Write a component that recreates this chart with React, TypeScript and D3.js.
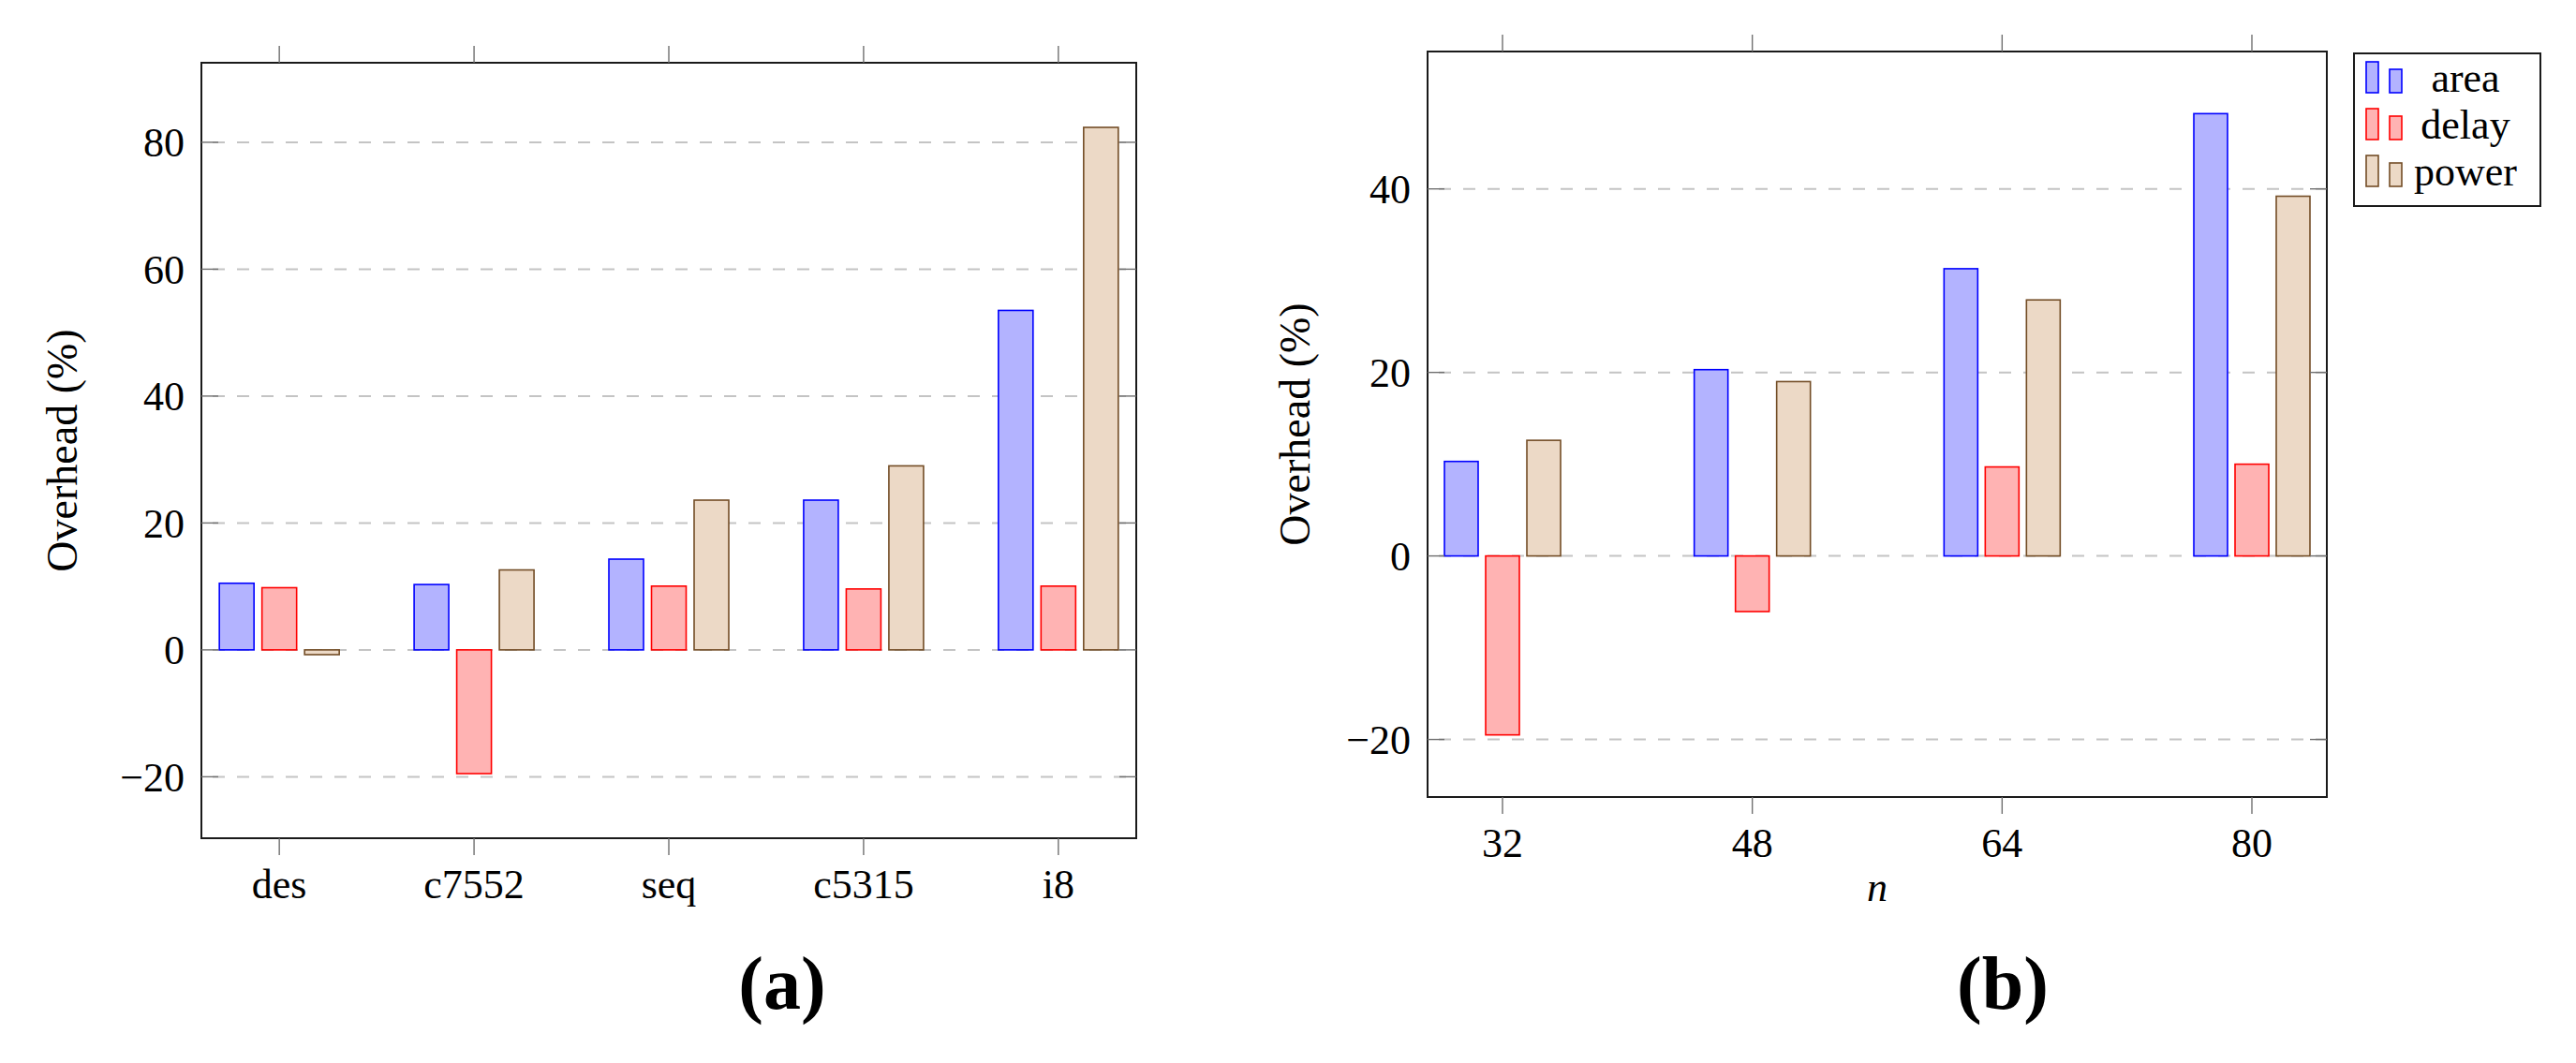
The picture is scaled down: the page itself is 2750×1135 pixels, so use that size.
import React from "react";
import * as d3 from "d3";

// panel (a): per benchmark circuit
const benchmarks = ["des", "c7552", "seq", "c5315", "i8"];
const areaA = [10.5, 10.3, 14.3, 23.6, 53.5];
const delayA = [9.8, -19.5, 10.05, 9.6, 10.05];
const powerA = [-0.75, 12.6, 23.6, 29.0, 82.35];
const yTicksA = [-20, 0, 20, 40, 60, 80];

// panel (b): per bit width n
const widthsN = [32, 48, 64, 80];
const areaB = [10.3, 20.3, 31.3, 48.2];
const delayB = [-19.5, -6.06, 9.7, 10.0];
const powerB = [12.6, 19.0, 27.9, 39.2];
const yTicksB = [-20, 0, 20, 40];

const seriesNames = ["area", "delay", "power"];

const FILLS = ["#b3b3ff", "#ffb3b3", "#ecd9c6"];
const STROKES = ["#0000ff", "#ff0000", "#734d26"];
const FONT = "'Liberation Serif', 'Times New Roman', serif";

interface PanelProps {
  frame: { x0: number; x1: number; y0: number; y1: number };
  xs: number[];
  xLabels: string[];
  series: number[][];
  yTicks: number[];
  barWidth: number;
  pitch: number;
  yLabelPos: [number, number];
  xLabel?: string;
  caption: string;
  captionX: number;
}

const fmt = (v: number) => (v < 0 ? `\u2212${Math.abs(v)}` : `${v}`);

const Panel = ({ frame, xs, xLabels, series, yTicks, barWidth, pitch, yLabelPos, xLabel, caption, captionX }: PanelProps) => {
  const { x0, x1, y0, y1 } = frame;

  const xr = xs[xs.length - 1] - xs[0];
  const x = d3.scaleLinear()
    .domain([xs[0] - 0.1 * xr, xs[xs.length - 1] + 0.1 * xr])
    .range([x0, x1]);

  const [mn, mx] = d3.extent(series.flat()) as [number, number];
  const pad = 0.1 * (mx - mn);
  const y = d3.scaleLinear().domain([mn - pad, mx + pad]).range([y1, y0]);

  const tickLen = 18;

  return (
    <g>
      {/* grid */}
      {yTicks.map(t => (
        <line key={`g${t}`} x1={x0} x2={x1} y1={y(t)} y2={y(t)}
          stroke="#c4c4c4" strokeWidth={2} strokeDasharray="13 13" strokeDashoffset={-12} />
      ))}

      {/* bars */}
      {series.map((vals, k) =>
        vals.map((v, i) => {
          const cx = x(xs[i]) + (k - 1) * pitch;
          const top = Math.min(y(v), y(0));
          return (
            <rect key={`b${k}-${i}`} x={cx - barWidth / 2} y={top}
              width={barWidth} height={Math.abs(y(v) - y(0))}
              fill={FILLS[k]} stroke={STROKES[k]} strokeWidth={1.6} />
          );
        })
      )}

      {/* frame */}
      <rect x={x0} y={y0} width={x1 - x0} height={y1 - y0} fill="none" stroke="#1a1a1a" strokeWidth={2} />

      {/* y ticks */}
      {yTicks.map(t => (
        <g key={`yt${t}`}>
          <line x1={x0} x2={x0 + tickLen} y1={y(t)} y2={y(t)} stroke="#707070" strokeWidth={1.4} />
          <line x1={x1 - tickLen} x2={x1} y1={y(t)} y2={y(t)} stroke="#707070" strokeWidth={1.4} />
          <text x={x0 - 18} y={y(t)} dy="0.35em" textAnchor="end" fontSize={44} fontFamily={FONT}>{fmt(t)}</text>
        </g>
      ))}

      {/* x ticks */}
      {xs.map((xv, i) => (
        <g key={`xt${i}`}>
          <line x1={x(xv)} x2={x(xv)} y1={y0} y2={y0 - tickLen} stroke="#707070" strokeWidth={1.4} />
          <line x1={x(xv)} x2={x(xv)} y1={y1} y2={y1 + tickLen} stroke="#707070" strokeWidth={1.4} />
          <text x={x(xv)} y={y1 + 64} textAnchor="middle" fontSize={44} fontFamily={FONT}>{xLabels[i]}</text>
        </g>
      ))}

      {xLabel && (
        <text x={(x0 + x1) / 2} y={y1 + 111} textAnchor="middle" fontSize={44} fontStyle="italic" fontFamily={FONT}>{xLabel}</text>
      )}

      <text transform={`translate(${yLabelPos[0]},${yLabelPos[1]}) rotate(-90)`} textAnchor="middle" fontSize={46} fontFamily={FONT}>
        Overhead (%)
      </text>

      <text x={captionX} y={1077} textAnchor="middle" fontSize={80} fontWeight="bold" fontFamily={FONT}>{caption}</text>
    </g>
  );
};

const Legend = ({ x0, y0 }: { x0: number; y0: number }) => (
  <g>
    <rect x={x0} y={y0} width={199} height={163} fill="white" stroke="#1a1a1a" strokeWidth={2} />
    {seriesNames.map((name, k) => {
      const base = y0 + 42 + k * 50;
      return (
        <g key={name}>
          <rect x={x0 + 13} y={base - 33} width={13} height={33} fill={FILLS[k]} stroke={STROKES[k]} strokeWidth={1.6} />
          <rect x={x0 + 38} y={base - 25} width={13} height={25} fill={FILLS[k]} stroke={STROKES[k]} strokeWidth={1.6} />
          <text x={x0 + 119} y={base - 1} textAnchor="middle" fontSize={44} fontFamily={FONT}>{name}</text>
        </g>
      );
    })}
  </g>
);

export default function App() {
  return (
    <svg width={2750} height={1135} style={{ position: "absolute", left: 0, top: 0, background: "white" }}>
      <rect width={2750} height={1135} fill="white" />
      <Panel
        frame={{ x0: 215, x1: 1213, y0: 67, y1: 895 }}
        xs={benchmarks.map((_, i) => i)}
        xLabels={benchmarks}
        series={[areaA, delayA, powerA]}
        yTicks={yTicksA}
        barWidth={37}
        pitch={45.5}
        yLabelPos={[82, 481]}
        caption="(a)"
        captionX={835}
      />
      <Panel
        frame={{ x0: 1524, x1: 2484, y0: 55, y1: 851 }}
        xs={widthsN}
        xLabels={widthsN.map(String)}
        series={[areaB, delayB, powerB]}
        yTicks={yTicksB}
        barWidth={36}
        pitch={44}
        yLabelPos={[1398, 453]}
        xLabel="n"
        caption="(b)"
        captionX={2138}
      />
      <Legend x0={2513} y0={57} />
    </svg>
  );
}
